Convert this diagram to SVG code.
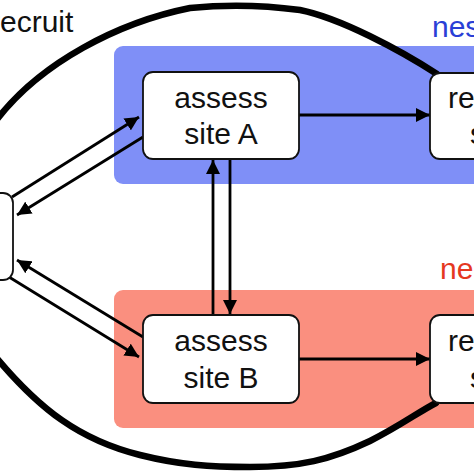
<svg xmlns="http://www.w3.org/2000/svg" width="474" height="474" viewBox="0 0 474 474">
<defs>
<style>
.lbl{font-family:"Liberation Sans",Arial,sans-serif;font-size:30px;fill:#111}
.node{fill:#fff;stroke:#111;stroke-width:1.8}
.arr{fill:none;stroke:#000;stroke-width:2.8}
.thick{fill:none;stroke:#000;stroke-width:6.5;stroke-linecap:round}
</style>
<marker id="ah" viewBox="0 0 10 10" refX="10" refY="5" markerWidth="5" markerHeight="5" markerUnits="strokeWidth" orient="auto">
<path d="M0,0 L10,5 L0,10 z" fill="#000"/>
</marker>
</defs>
<rect width="474" height="474" fill="#fff"/>
<g id="regionA">
<rect x="114" y="46" width="380" height="138" rx="9" fill="#7f8ff7"/>
<text x="432" y="37" class="lbl" style="fill:#2a3fd6">nes</text>
</g>
<g id="regionB">
<rect x="114" y="290" width="380" height="138" rx="9" fill="#fa8f7f"/>
<text x="440" y="279" class="lbl" style="fill:#e5381f">ne</text>
</g>
<g id="connectors">
<path class="thick" d="M-5 122 C40 62, 120 22, 190 8 C230 4, 270 6, 300 10 C340 18, 400 50, 437 74"/>
<path class="thick" d="M-5 356 C40 410, 80 440, 140 455 C180 465, 210 467, 250 467 C300 467, 330 460, 370 441 C400 426, 420 411, 436 403"/>
<line class="arr" x1="12" y1="197" x2="139" y2="117" marker-end="url(#ah)"/>
<line class="arr" x1="143" y1="137" x2="17" y2="215" marker-end="url(#ah)"/>
<line class="arr" x1="143" y1="337" x2="17" y2="260" marker-end="url(#ah)"/>
<line class="arr" x1="9" y1="277" x2="139" y2="357" marker-end="url(#ah)"/>
<line class="arr" x1="213" y1="315" x2="213" y2="160" marker-end="url(#ah)"/>
<line class="arr" x1="230" y1="159" x2="230" y2="314" marker-end="url(#ah)"/>
<line class="arr" x1="299" y1="115" x2="430" y2="115" marker-end="url(#ah)"/>
<line class="arr" x1="299" y1="359" x2="430" y2="359" marker-end="url(#ah)"/>
</g>
<g id="recruit">
<text x="-10" y="32" class="lbl">recruit</text>
</g>
<g id="left">
<rect class="node" x="-100" y="193" width="113" height="87" rx="10"/>
</g>
<g id="assessA">
<rect class="node" x="143" y="72" width="156" height="87" rx="10"/>
<text x="221" y="108" class="lbl" text-anchor="middle">assess</text>
<text x="221" y="144" class="lbl" text-anchor="middle">site A</text>
</g>
<g id="assessB">
<rect class="node" x="143" y="315" width="156" height="88" rx="10"/>
<text x="221" y="351" class="lbl" text-anchor="middle">assess</text>
<text x="221" y="388" class="lbl" text-anchor="middle">site B</text>
</g>
<g id="rightA">
<rect class="node" x="430" y="73" width="156" height="86" rx="10"/>
<text x="448" y="108" class="lbl">re</text>
<text x="470" y="144" class="lbl">s</text>
</g>
<g id="rightB">
<rect class="node" x="430" y="315" width="156" height="88" rx="10"/>
<text x="448" y="351" class="lbl">re</text>
<text x="470" y="388" class="lbl">s</text>
</g>
</svg>
